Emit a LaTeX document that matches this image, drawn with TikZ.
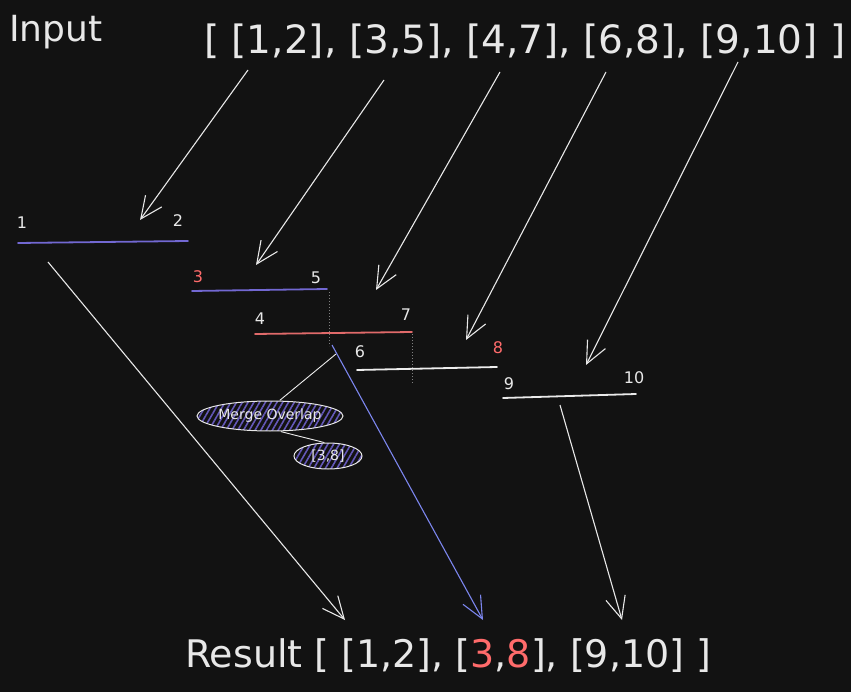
\documentclass[tikz,border=0pt]{standalone}
\usepackage{fontspec}
\setmainfont{DejaVu Sans}
\usetikzlibrary{arrows.meta,graphs,shapes.geometric,patterns.meta}

\definecolor{bg}{HTML}{121212}
\definecolor{ink}{HTML}{E8E8E8}
\definecolor{violet}{HTML}{7268D2}
\definecolor{hot}{HTML}{FF6B6B}
\definecolor{coral}{HTML}{E06A6A}
\definecolor{sky}{HTML}{7C86EE}
\definecolor{hatch}{HTML}{6458B8}

\tikzset{
  big/.style={text=ink, font=\fontsize{36}{42}\selectfont, inner sep=0pt},
  num/.style={text=ink, font=\fontsize{16}{19}\selectfont, inner sep=0pt},
  interval/.style={line width=1.8pt, line cap=round},
  pointer/.style={ink, line width=1.1pt},
  bubble/.style={ellipse, draw=ink, line width=1pt, text=ink,
    pattern={Lines[angle=60,distance=5pt,line width=1.6pt]}, pattern color=hatch,
    inner sep=0pt, font=\fontsize{14}{16}\selectfont}
}

\begin{document}
\begin{tikzpicture}[x=1pt,y=-1pt,>={Straight Barb[length=22pt,width=20pt]}]
  \fill[bg] (0,0) rectangle (851,692);
  \useasboundingbox (0,0) rectangle (851,692);

  % input and result
  \node[big, anchor=west] (input) at (9,32) {Input};
  \node[big, anchor=west, font=\fontsize{39}{45}\selectfont] (list) at (204,41)
    {[ [1,2], [3,5], [4,7], [6,8], [9,10] ]};
  \node[big, anchor=west, font=\fontsize{38}{44}\selectfont] (result) at (185,656)
    {Result [ [1,2], [\textcolor{hot}{3},\textcolor{hot}{8}], [9,10] ]};

  % interval ends
  \coordinate (a1) at (18,243);  \coordinate (b1) at (188,241);
  \coordinate (a2) at (192,291); \coordinate (b2) at (327,289);
  \coordinate (a3) at (255,334); \coordinate (b3) at (412,332);
  \coordinate (a4) at (357,370); \coordinate (b4) at (497,367);
  \coordinate (a5) at (503,398); \coordinate (b5) at (636,394);

  \draw[interval, violet] (a1) -- (b1);
  \draw[interval, violet] (a2) -- (b2);
  \draw[interval, coral] (a3) -- (b3);
  \draw[interval, ink!80] (a4) -- (b4);
  \draw[interval, ink!90] (a5) -- (b5);

  \node[num] (n1) at (22,223) {1};
  \node[num] (n2) at (178,221) {2};
  \node[num, text=hot] (n3) at (198,277) {3};
  \node[num] (n5) at (316,278) {5};
  \node[num] (n4) at (260,319) {4};
  \node[num] (n7) at (406,315) {7};
  \node[num] (n6) at (360,352) {6};
  \node[num, text=hot] (n8) at (498,348) {8};
  \node[num] (n9) at (509,384) {9};
  \node[num] (n10) at (634,378) {10};

  % overlap marks
  \coordinate (d1) at (329,292); \coordinate (d2) at (329,346);
  \coordinate (d3) at (412,334); \coordinate (d4) at (412,384);
  \draw[gray, dotted, line width=1pt] (d1) -- (d2);
  \draw[gray, dotted, line width=1pt] (d3) -- (d4);

  \node[bubble, minimum width=140pt, minimum height=30pt] (merge) at (270,416) {Merge Overlap};
  \node[bubble, minimum width=68pt, minimum height=26pt] (res) at (328,456) {[3,8]};
  \coordinate (ov) at (336,354);
  \draw[ink!80, line width=0.9pt] (merge.58) -- (ov);
  \draw[ink!80, line width=0.9pt] (merge.-55) -- (res.105);

  % pointers
  \coordinate (s1) at (248,70);  \coordinate (e1) at (140,220);
  \coordinate (s2) at (384,80);  \coordinate (e2) at (256,265);
  \coordinate (s3) at (500,72);  \coordinate (e3) at (376,290);
  \coordinate (s4) at (606,72);  \coordinate (e4) at (466,340);
  \coordinate (s5) at (738,62);  \coordinate (e5) at (586,365);
  \coordinate (r1) at (48,262);  \coordinate (f1) at (345,620);
  \coordinate (r2) at (332,345); \coordinate (f2) at (483,620);
  \coordinate (r3) at (560,405); \coordinate (f3) at (622,620);
  \graph[use existing nodes, edges={pointer}] {
    s1 -> e1;
    s2 -> e2;
    s3 -> e3;
    s4 -> e4;
    s5 -> e5;
    r1 -> f1;
    r2 ->[sky] f2;
    r3 -> f3;
  };
\end{tikzpicture}
\end{document}
